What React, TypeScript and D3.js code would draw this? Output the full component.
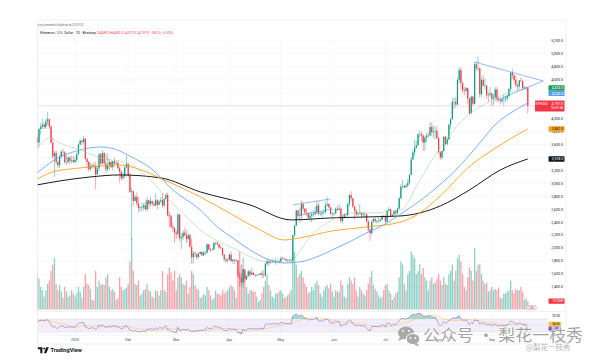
import React, { useEffect, useRef } from "react";
import * as d3 from "d3";

const W = 593;
const H = 360;

// ETH / USD daily, Bitstamp — first candle 2024-12-10
const startDate = Date.UTC(2024, 11, 10);
const firstOpen = 3710;
// Nov 26 – Dec 9 closes, only used to seed the RSI
const warmupCloses = [3330, 3650, 3580, 3590, 3700, 3710, 3640, 3610, 3840, 3790, 4000, 3990, 4010, 3710];

const closesDec = [3630, 3840, 3880, 3910, 3870, 3960, 3990, 3880, 3630, 3420, 3470, 3330, 3280, 3420, 3490, 3480, 3330, 3330, 3400, 3350, 3360, 3330];
const closesJan = [3360, 3450, 3600, 3660, 3640, 3690, 3380, 3330, 3220, 3270, 3280, 3270, 3140, 3230, 3450, 3310, 3470, 3310, 3220, 3280, 3330, 3250, 3340, 3310, 3320, 3230, 3180, 3080, 3110, 3250, 3300];
const closesFeb = [3120, 2870, 2880, 2730, 2790, 2690, 2620, 2630, 2630, 2660, 2600, 2740, 2680, 2730, 2690, 2660, 2740, 2670, 2720, 2740, 2660, 2760, 2820, 2510, 2490, 2330, 2310, 2240];
const closesMar = [2220, 2520, 2150, 2170, 2240, 2200, 2140, 2200, 2020, 1860, 1920, 1910, 1860, 1910, 1940, 1890, 1930, 1930, 2060, 1980, 1970, 1980, 2080, 2080, 2060, 2010, 2000, 1900, 1830, 1810, 1820];
const closesApr = [1900, 1800, 1820, 1810, 1810, 1580, 1550, 1470, 1670, 1520, 1570, 1640, 1590, 1620, 1590, 1580, 1580, 1590, 1610, 1590, 1580, 1760, 1800, 1770, 1780, 1790, 1790, 1800, 1800, 1790];
const closesMay = [1840, 1840, 1830, 1810, 1820, 1810, 1810, 2200, 2350, 2580, 2510, 2500, 2680, 2610, 2550, 2540, 2470, 2500, 2520, 2520, 2550, 2660, 2530, 2530, 2550, 2560, 2660, 2680, 2630, 2530, 2530];
const closesJun = [2540, 2610, 2590, 2610, 2420, 2480, 2520, 2510, 2680, 2820, 2770, 2640, 2580, 2520, 2540, 2550, 2510, 2520, 2520, 2410, 2290, 2230, 2410, 2450, 2420, 2420, 2420, 2440, 2500, 2490];
const closesJul = [2410, 2580, 2600, 2500, 2520, 2570, 2540, 2610, 2770, 2950, 2960, 2940, 2970, 3010, 3130, 3370, 3480, 3550, 3590, 3760, 3760, 3740, 3630, 3710, 3740, 3740, 3870, 3790, 3800, 3810, 3700];
const closesAug = [3480, 3400, 3500, 3720, 3610, 3680, 3910, 3990, 4260, 4260, 4220, 4600, 4750, 4550, 4440, 4430, 4470, 4310, 4080, 4340, 4230, 4840, 4780, 4780, 4380, 4600, 4510, 4510, 4360, 4370, 4390];
const closesSep = [4310, 4330, 4450, 4300, 4290, 4270, 4300, 4310, 4310, 4350, 4460, 4710, 4670, 4600, 4520, 4500, 4590, 4580, 4470, 4480, 4480, 4197];

const highsDec = [3780, 3860, 3930, 4000, 3940, 4000, 4107, 4000, 3900, 3710, 3500, 3510, 3370, 3450, 3520, 3540, 3500, 3440, 3420, 3430, 3430, 3420];
const highsJan = [3410, 3480, 3620, 3680, 3680, 3740, 3700, 3400, 3350, 3320, 3300, 3320, 3330, 3280, 3470, 3470, 3520, 3480, 3450, 3460, 3380, 3360, 3350, 3400, 3350, 3340, 3260, 3200, 3170, 3280, 3430];
const highsFeb = [3320, 3160, 2930, 2880, 2830, 2860, 2800, 2650, 2700, 2700, 2720, 2790, 2750, 2790, 2730, 2720, 2850, 2760, 2750, 2790, 2850, 2780, 2850, 2860, 2560, 2520, 2390, 2330];
const highsMar = [2280, 2550, 2520, 2220, 2280, 2320, 2280, 2240, 2220, 2150, 1950, 1960, 1920, 1940, 1960, 1950, 1960, 1950, 2070, 2070, 2000, 2000, 2090, 2100, 2110, 2070, 2040, 2010, 1910, 1850, 1850];
const highsApr = [1920, 1950, 1830, 1830, 1830, 1810, 1640, 1620, 1690, 1680, 1580, 1660, 1660, 1690, 1640, 1600, 1600, 1600, 1620, 1650, 1660, 1780, 1830, 1810, 1820, 1840, 1820, 1850, 1810, 1830];
const highsMay = [1870, 1870, 1850, 1840, 1830, 1830, 1850, 2210, 2360, 2600, 2590, 2620, 2740, 2720, 2620, 2620, 2550, 2560, 2560, 2580, 2640, 2730, 2700, 2570, 2570, 2590, 2720, 2790, 2700, 2640, 2560];
const highsJun = [2550, 2630, 2660, 2680, 2640, 2520, 2540, 2540, 2700, 2840, 2880, 2780, 2660, 2600, 2560, 2680, 2550, 2560, 2560, 2540, 2440, 2300, 2430, 2470, 2470, 2440, 2470, 2460, 2500, 2520];
const highsJul = [2520, 2590, 2640, 2610, 2520, 2590, 2590, 2630, 2790, 2990, 3060, 2980, 2990, 3070, 3140, 3410, 3520, 3680, 3660, 3770, 3820, 3800, 3760, 3740, 3780, 3790, 3940, 3940, 3900, 3880, 3880];
const highsAug = [3720, 3500, 3510, 3740, 3730, 3720, 3920, 4010, 4320, 4330, 4330, 4640, 4790, 4790, 4570, 4490, 4490, 4480, 4320, 4360, 4350, 4880, 4880, 4956, 4790, 4640, 4670, 4620, 4520, 4420, 4490];
const highsSep = [4400, 4380, 4490, 4490, 4340, 4320, 4330, 4380, 4350, 4370, 4480, 4720, 4770, 4690, 4660, 4530, 4600, 4640, 4600, 4500, 4500, 4490];

const lowsDec = [3510, 3560, 3750, 3840, 3840, 3840, 3900, 3840, 3620, 3380, 3100, 3300, 3230, 3240, 3380, 3420, 3300, 3290, 3310, 3300, 3310, 3320];
const lowsJan = [3300, 3330, 3450, 3590, 3590, 3610, 3370, 3230, 3180, 3190, 3230, 3230, 2910, 3130, 3180, 3260, 3300, 3270, 3150, 3180, 3200, 3240, 3200, 3280, 3290, 3230, 3010, 3050, 3050, 3090, 3240];
const lowsFeb = [3100, 2850, 2120, 2650, 2720, 2650, 2550, 2570, 2560, 2590, 2590, 2560, 2600, 2640, 2650, 2650, 2650, 2600, 2660, 2700, 2620, 2630, 2750, 2490, 2320, 2310, 2250, 2080];
const lowsMar = [2140, 2170, 2100, 1990, 2120, 2180, 2080, 2130, 2010, 1760, 1760, 1860, 1820, 1860, 1910, 1880, 1880, 1890, 1920, 1960, 1940, 1960, 1980, 2040, 2050, 1990, 1990, 1880, 1790, 1770, 1780];
const lowsApr = [1820, 1790, 1760, 1760, 1780, 1540, 1410, 1420, 1390, 1480, 1510, 1550, 1550, 1590, 1580, 1550, 1570, 1580, 1580, 1540, 1540, 1560, 1720, 1730, 1760, 1780, 1770, 1740, 1770, 1760];
const lowsMay = [1780, 1820, 1820, 1800, 1780, 1790, 1770, 1800, 2170, 2340, 2440, 2400, 2430, 2570, 2510, 2500, 2450, 2410, 2400, 2480, 2510, 2530, 2510, 2500, 2480, 2520, 2530, 2640, 2620, 2510, 2480];
const lowsJun = [2500, 2520, 2580, 2590, 2390, 2380, 2470, 2480, 2490, 2640, 2730, 2620, 2440, 2500, 2500, 2530, 2460, 2480, 2480, 2400, 2250, 2110, 2210, 2400, 2390, 2380, 2400, 2410, 2430, 2470];
const lowsJul = [2380, 2400, 2570, 2480, 2480, 2510, 2510, 2520, 2600, 2760, 2910, 2920, 2930, 2940, 2980, 3130, 3350, 3420, 3530, 3580, 3700, 3650, 3500, 3510, 3640, 3700, 3740, 3730, 3700, 3680, 3680];
const lowsAug = [3460, 3360, 3370, 3480, 3590, 3580, 3670, 3840, 3990, 4150, 4170, 4210, 4550, 4450, 4400, 4360, 4410, 4220, 4060, 4080, 4200, 4220, 4740, 4730, 4320, 4340, 4500, 4450, 4310, 4260, 4340];
const lowsSep = [4200, 4210, 4270, 4260, 4260, 4220, 4240, 4200, 4260, 4270, 4330, 4430, 4620, 4560, 4480, 4430, 4450, 4570, 4430, 4470, 4430, 4077];

// volume, thousands of ETH
const volDec = [55, 48, 35, 30, 20, 30, 40, 45, 60, 70, 80, 40, 30, 38, 28, 18, 35, 28, 20, 22, 30, 25];
const volJan = [20, 25, 35, 28, 18, 35, 55, 40, 38, 32, 15, 14, 60, 35, 45, 38, 40, 38, 50, 55, 35, 30, 32, 28, 15, 18, 50, 35, 30, 32, 34];
const volFeb = [40, 75, 110, 60, 40, 38, 45, 22, 25, 30, 32, 40, 30, 28, 20, 18, 30, 28, 22, 30, 60, 30, 28, 55, 65, 58, 45, 60];
const volMar = [30, 50, 55, 50, 40, 38, 45, 25, 35, 60, 55, 38, 32, 30, 18, 20, 25, 22, 35, 30, 22, 15, 18, 30, 24, 25, 22, 30, 25, 28, 30];
const volApr = [35, 38, 35, 30, 18, 55, 90, 70, 80, 55, 35, 25, 30, 30, 28, 28, 20, 12, 15, 25, 35, 45, 55, 38, 30, 20, 18, 25, 25, 28];
const volMay = [30, 25, 18, 20, 22, 25, 30, 85, 90, 70, 50, 55, 60, 50, 40, 35, 25, 28, 35, 30, 40, 45, 38, 25, 20, 30, 35, 38, 33, 40, 28];
const volJun = [20, 30, 28, 28, 45, 38, 20, 18, 40, 50, 45, 40, 50, 30, 20, 35, 30, 25, 22, 30, 40, 50, 60, 38, 32, 28, 22, 18, 20, 30];
const volJul = [38, 40, 30, 25, 15, 20, 25, 28, 50, 75, 70, 40, 30, 55, 60, 90, 85, 80, 55, 60, 70, 55, 65, 50, 45, 30, 45, 50, 40, 42, 48];
const volAug = [55, 45, 38, 50, 40, 38, 55, 60, 70, 45, 60, 80, 85, 75, 55, 35, 30, 50, 65, 60, 45, 95, 60, 70, 70, 55, 45, 40, 42, 28, 30];
const volSep = [35, 30, 32, 30, 34, 18, 18, 25, 25, 28, 30, 45, 30, 25, 32, 30, 30, 35, 28, 15, 18, 13];

const closes = [...closesDec, ...closesJan, ...closesFeb, ...closesMar, ...closesApr, ...closesMay, ...closesJun, ...closesJul, ...closesAug, ...closesSep];
const highs = [...highsDec, ...highsJan, ...highsFeb, ...highsMar, ...highsApr, ...highsMay, ...highsJun, ...highsJul, ...highsAug, ...highsSep];
const lows = [...lowsDec, ...lowsJan, ...lowsFeb, ...lowsMar, ...lowsApr, ...lowsMay, ...lowsJun, ...lowsJul, ...lowsAug, ...lowsSep];
const volumes = [...volDec, ...volJan, ...volFeb, ...volMar, ...volApr, ...volMay, ...volJun, ...volJul, ...volAug, ...volSep];

// moving averages: [bar index, price]
const ma20 = [[0, 3548], [7, 3702], [13, 3625], [25, 3517], [37, 3394], [52, 3316], [66, 3054], [75, 2791], [87, 2483], [95, 2282], [114, 2004], [134, 1788], [147, 1772], [151, 1880], [159, 2174], [172, 2436], [182, 2544], [192, 2544], [212, 2591], [222, 3000], [231, 3394], [250, 4027], [262, 4243], [276, 4413], [286, 4474]];
const ma50 = [[0, 3162], [10, 3363], [23, 3502], [37, 3563], [45, 3532], [56, 3393], [66, 3239], [79, 2899], [95, 2591], [105, 2328], [114, 2158], [124, 1973], [134, 1834], [144, 1772], [153, 1788], [163, 1865], [172, 1973], [182, 2097], [192, 2236], [202, 2359], [212, 2529], [229, 2853], [244, 3208], [256, 3563], [268, 3934], [276, 4088], [286, 4243]];
const ma100 = [[0, 3069], [9, 3177], [25, 3239], [37, 3270], [48, 3285], [57, 3239], [74, 3054], [95, 2791], [114, 2513], [130, 2281], [144, 2127], [153, 2158], [172, 2266], [192, 2328], [212, 2405], [223, 2544], [235, 2807], [251, 3239], [270, 3594], [286, 3841]];
const ma200 = [[0, 2977], [13, 3038], [31, 3100], [48, 3131], [72, 3085], [95, 2869], [124, 2668], [148, 2436], [171, 2467], [194, 2483], [212, 2498], [235, 2652], [252, 2899], [270, 3208], [286, 3378]];

// hand-drawn trend lines: [bar index, price]
const triUpper = [[255, 4876], [295, 4582]];
const triLower = [[268, 4289], [295, 4582]];
const chanUpper = [[149, 2668], [171, 2760]];
const chanLower = [[151, 2498], [172, 2606]];

const priceTicks = [1400, 1600, 1800, 2000, 2200, 2400, 2600, 2800, 3000, 3200, 3400, 3600, 3800, 4000, 4200, 4400, 4600, 4800, 5000, 5200];
const monthTicks: [number, number, string][] = [
  [2025, 0, "2025"], [2025, 1, "Feb"], [2025, 2, "Mar"], [2025, 3, "Apr"], [2025, 4, "May"],
  [2025, 5, "Jun"], [2025, 6, "Jul"], [2025, 7, "Aug"], [2025, 8, "Sep"],
];

const headerLine = "ervinay_ultimate created with TradingView.com, Sep 23, 2025 07:52 UTC";
const symbolLine = "Ethereum / U.S. Dollar · 1D · Bitstamp";

const UP = "#089981";
const DOWN = "#f23645";
const FONT = "Roboto, 'DejaVu Sans', sans-serif";

export default function App() {
  const ref = useRef<SVGSVGElement>(null);

  useEffect(() => {
    if (!ref.current) return;
    const svg = d3.select(ref.current);
    svg.selectAll("*").remove();

    const dayMs = 86400000;
    const dateAt = (i: number) => new Date(startDate + i * dayMs);
    const n = Math.min(closes.length, highs.length, lows.length, volumes.length);
    const bars = d3.range(n).map((i) => {
      const o = i === 0 ? firstOpen : closes[i - 1];
      const c = closes[i];
      return { i, date: dateAt(i), o, c, h: Math.max(highs[i], o, c), l: Math.min(lows[i], o, c), v: volumes[i] };
    });

    const x = d3.scaleUtc().domain([dateAt(0), dateAt(286)]).range([37.3, 527.8]);
    const y = d3.scaleLinear().domain([1400, 5200]).range([287, 41]);
    const yVol = d3.scaleLinear().domain([0, 105]).range([309.5, 242]);
    const yRsi = d3.scaleLinear().domain([30, 70]).range([332, 319]);

    const left = 37.5, right = 548, paneBottom = 311.5, rsiBottom = 335, axisRight = 566;

    svg.append("rect").attr("width", W).attr("height", H).attr("fill", "#fff");

    const defs = svg.append("defs");
    defs.append("clipPath").attr("id", "pane").append("rect")
      .attr("x", left).attr("y", 20).attr("width", right - left).attr("height", paneBottom - 20);
    defs.append("clipPath").attr("id", "rsiPane").append("rect")
      .attr("x", left).attr("y", paneBottom).attr("width", right - left).attr("height", rsiBottom - paneBottom);

    // frame + separators
    svg.append("rect").attr("x", left).attr("y", 20).attr("width", axisRight - left).attr("height", 324)
      .attr("fill", "none").attr("stroke", "#e0e3eb").attr("stroke-width", 0.5);
    [paneBottom, rsiBottom].forEach((yy) =>
      svg.append("line").attr("x1", left).attr("x2", axisRight).attr("y1", yy).attr("y2", yy)
        .attr("stroke", "#e0e3eb").attr("stroke-width", 0.5));

    // grid
    const grid = svg.append("g").attr("stroke", "#eef0f5").attr("stroke-width", 0.5);
    priceTicks.forEach((p) =>
      grid.append("line").attr("x1", left).attr("x2", right).attr("y1", y(p)).attr("y2", y(p)));
    monthTicks.forEach(([yr, m]) => {
      const xx = x(new Date(Date.UTC(yr, m, 1)));
      grid.append("line").attr("x1", xx).attr("x2", xx).attr("y1", 38).attr("y2", rsiBottom);
    });

    const pane = svg.append("g").attr("clip-path", "url(#pane)");

    // volume
    pane.append("g").selectAll("rect").data(bars).enter().append("rect")
      .attr("x", (d) => x(d.date) - 0.65).attr("width", 1.3)
      .attr("y", (d) => yVol(d.v)).attr("height", (d) => yVol(0) - yVol(d.v))
      .attr("fill", (d) => (d.c >= d.o ? UP : DOWN)).attr("opacity", 0.45);

    // candles
    const cg = pane.append("g");
    cg.selectAll("line").data(bars).enter().append("line")
      .attr("x1", (d) => x(d.date)).attr("x2", (d) => x(d.date))
      .attr("y1", (d) => y(d.h)).attr("y2", (d) => y(d.l))
      .attr("stroke", (d) => (d.c >= d.o ? UP : DOWN)).attr("stroke-width", 0.45);
    cg.selectAll("rect").data(bars).enter().append("rect")
      .attr("x", (d) => x(d.date) - 0.6).attr("width", 1.2)
      .attr("y", (d) => y(Math.max(d.o, d.c)))
      .attr("height", (d) => Math.max(0.5, Math.abs(y(d.o) - y(d.c))))
      .attr("fill", (d) => (d.c >= d.o ? UP : DOWN));

    // moving averages
    const maLine = d3.line<number[]>().x((d) => x(dateAt(d[0]))).y((d) => y(d[1])).curve(d3.curveMonotoneX);
    const mas = [
      { data: ma200, color: "#000000", w: 0.9 },
      { data: ma100, color: "#f7a21b", w: 0.9 },
      { data: ma50, color: "#5b9cf6", w: 0.8 },
      { data: ma20, color: "#9ccfa2", w: 0.55 },
    ];
    mas.forEach((m) =>
      pane.append("path").attr("d", maLine(m.data)).attr("fill", "none")
        .attr("stroke", m.color).attr("stroke-width", m.w));

    // trend lines
    const tLine = d3.line<number[]>().x((d) => x(dateAt(d[0]))).y((d) => y(d[1]));
    [triUpper, triLower, chanUpper, chanLower].forEach((t) =>
      pane.append("path").attr("d", tLine(t)).attr("fill", "none")
        .attr("stroke", "#4d8ef0").attr("stroke-width", 0.6));

    // price line
    const last = bars[n - 1];
    pane.append("line").attr("x1", left).attr("x2", right).attr("y1", y(last.c)).attr("y2", y(last.c))
      .attr("stroke", DOWN).attr("stroke-width", 0.4).attr("stroke-dasharray", "1,1").attr("opacity", 0.7);

    // RSI
    const series = [...warmupCloses, ...closes.slice(0, n)];
    const p = 14;
    let ag = 0, al = 0;
    for (let k = 1; k <= p; k++) {
      const dd = series[k] - series[k - 1];
      if (dd > 0) ag += dd; else al -= dd;
    }
    ag /= p; al /= p;
    const rsi: number[] = [100 - 100 / (1 + ag / al)];
    for (let k = p + 1; k < series.length; k++) {
      const dd = series[k] - series[k - 1];
      ag = (ag * (p - 1) + Math.max(dd, 0)) / p;
      al = (al * (p - 1) + Math.max(-dd, 0)) / p;
      rsi.push(al === 0 ? 100 : 100 - 100 / (1 + ag / al));
    }
    const rsiMa = rsi.map((_, i) => d3.mean(rsi.slice(Math.max(0, i - 13), i + 1)) as number);

    const rp = svg.append("g").attr("clip-path", "url(#rsiPane)");
    rp.append("rect").attr("x", left).attr("width", right - left)
      .attr("y", yRsi(70)).attr("height", yRsi(30) - yRsi(70)).attr("fill", "rgba(126,87,194,0.1)");
    [70, 50, 30].forEach((v) =>
      rp.append("line").attr("x1", left).attr("x2", right).attr("y1", yRsi(v)).attr("y2", yRsi(v))
        .attr("stroke", "#9598a1").attr("stroke-width", 0.3)
        .attr("stroke-dasharray", v === 50 ? "0.6,1" : "1,1").attr("opacity", v === 50 ? 0.5 : 0.9));
    const ob = d3.area<number>().x((_, i) => x(dateAt(i))).y0(yRsi(70)).y1((d) => yRsi(Math.max(d, 70)));
    const os = d3.area<number>().x((_, i) => x(dateAt(i))).y0(yRsi(30)).y1((d) => yRsi(Math.min(d, 30)));
    rp.append("path").attr("d", ob(rsi)).attr("fill", "rgba(8,153,129,0.35)");
    rp.append("path").attr("d", os(rsi)).attr("fill", "rgba(242,54,69,0.35)");
    const rl = d3.line<number>().x((_, i) => x(dateAt(i))).y((d) => yRsi(d));
    rp.append("path").attr("d", rl(rsiMa)).attr("fill", "none").attr("stroke", "#f5c542").attr("stroke-width", 0.5);
    rp.append("path").attr("d", rl(rsi)).attr("fill", "none").attr("stroke", "#7e57c2").attr("stroke-width", 0.5);

    // price axis labels
    const ax = svg.append("g").attr("font-family", FONT).attr("font-size", 3.6).attr("fill", "#131722");
    priceTicks.forEach((t) =>
      ax.append("text").attr("x", 563).attr("y", y(t)).attr("dy", "0.35em").attr("text-anchor", "end")
        .text(d3.format(",.1f")(t)));

    // time axis labels
    monthTicks.forEach(([yr, m, label]) =>
      svg.append("text").attr("x", x(new Date(Date.UTC(yr, m, 1)))).attr("y", 339.5).attr("dy", "0.35em")
        .attr("text-anchor", "middle").attr("font-family", FONT).attr("font-size", 3.6).attr("fill", "#4a4e59")
        .text(label));

    // colored value labels on the scale
    const fmt = d3.format(",.1f");
    const tag = (yc: number, fill: string, text: string, color: string, x0 = 548.5, w = 16, h = 5.4) => {
      svg.append("rect").attr("x", x0).attr("y", yc - h / 2).attr("width", w).attr("height", h)
        .attr("rx", 0.6).attr("fill", fill);
      svg.append("text").attr("x", x0 + w - 1.3).attr("y", yc).attr("dy", "0.35em").attr("text-anchor", "end")
        .attr("font-family", FONT).attr("font-size", Math.min(3.5, h - 1.4)).attr("fill", color).text(text);
    };

    const tagH = 5.4;
    const priceY = y(last.c);
    const pTop = priceY - 5.5, pBot = priceY + 5.5;
    const maTags = [
      { v: ma20[ma20.length - 1][1], fill: "#1e9e53", color: "#fff" },
      { v: ma50[ma50.length - 1][1], fill: "#5b9cf6", color: "#fff" },
      { v: ma100[ma100.length - 1][1], fill: "#f7a21b", color: "#131722" },
      { v: ma200[ma200.length - 1][1], fill: "#131722", color: "#fff" },
    ].sort((a, b) => b.v - a.v);
    let prevBottom = -Infinity;
    maTags.forEach((t) => {
      let yc = Math.max(y(t.v), prevBottom + tagH / 2);
      if (yc + tagH / 2 > pTop && yc - tagH / 2 < pBot) {
        yc = prevBottom + tagH / 2;
        if (yc + tagH / 2 > pTop) yc = pTop - tagH / 2;
      }
      tag(yc, t.fill, fmt(t.v), t.color);
      prevBottom = yc + tagH / 2;
    });

    // last price label (symbol + price + countdown)
    svg.append("rect").attr("x", 535).attr("y", pTop).attr("width", 29.5).attr("height", pBot - pTop)
      .attr("rx", 0.6).attr("fill", DOWN);
    svg.append("text").attr("x", 541.5).attr("y", priceY - 1.6).attr("dy", "0.35em").attr("text-anchor", "middle")
      .attr("font-family", FONT).attr("font-size", 3.2).attr("fill", "#fff").text("ETHUSD");
    svg.append("text").attr("x", 563).attr("y", priceY - 2).attr("dy", "0.35em").attr("text-anchor", "end")
      .attr("font-family", FONT).attr("font-size", 3.5).attr("fill", "#fff").text(fmt(last.c));
    svg.append("text").attr("x", 563).attr("y", priceY + 2.3).attr("dy", "0.35em").attr("text-anchor", "end")
      .attr("font-family", FONT).attr("font-size", 3.2).attr("fill", "#fff").text("16:07:48");

    // volume label + last bar pill
    tag(Math.min(301.5, yVol(last.v)), DOWN, `${last.v.toFixed(2)}K`, "#fff");
    svg.append("rect").attr("x", 526).attr("y", 305.5).attr("width", 10.5).attr("height", 4.2).attr("rx", 2)
      .attr("fill", "#fde2e4").attr("stroke", "#e57373").attr("stroke-width", 0.3);
    svg.append("text").attr("x", 531.2).attr("y", 307.6).attr("dy", "0.35em").attr("text-anchor", "middle")
      .attr("font-family", FONT).attr("font-size", 2.6).attr("fill", "#5b6bd6").text(`${last.v}K`);

    // RSI labels
    svg.append("text").attr("x", 560).attr("y", 315.5).attr("dy", "0.35em").attr("text-anchor", "end")
      .attr("font-family", FONT).attr("font-size", 3.2).attr("fill", "#131722").text("70.00");
    const rLast = rsi[n - 1], mLast = rsiMa[n - 1];
    const rTagH = 4.4;
    const mYc = Math.max(320.5, Math.min(yRsi(mLast), yRsi(rLast) - rTagH));
    tag(mYc, "#f5c542", mLast.toFixed(2), "#131722", 548.5, 12.5, rTagH);
    tag(Math.max(yRsi(rLast), mYc + rTagH), "#7e57c2", rLast.toFixed(2), "#fff", 548.5, 12.5, rTagH);

    // header
    svg.append("text").attr("x", 38).attr("y", 25).attr("dy", "0.35em").attr("font-family", FONT)
      .attr("font-size", 2.6).attr("fill", "#50535e").attr("textLength", 46).attr("lengthAdjust", "spacingAndGlyphs")
      .text(headerLine);
    svg.append("rect").attr("x", 37.5).attr("y", 29).attr("width", 138.5).attr("height", 7)
      .attr("fill", "#fff").attr("stroke", "#e0e3eb").attr("stroke-width", 0.4).attr("rx", 0.8);
    svg.append("text").attr("x", 40).attr("y", 32.6).attr("dy", "0.35em").attr("font-family", FONT)
      .attr("font-size", 3).attr("fill", "#131722").attr("textLength", 56).attr("lengthAdjust", "spacingAndGlyphs")
      .text(symbolLine);
    const chg = last.c - last.o;
    const ohlc = `O${fmt(last.o)} H${fmt(last.h)} L${fmt(last.l)} C${fmt(last.c)} ${chg < 0 ? "−" : "+"}${fmt(Math.abs(chg))} (${chg < 0 ? "−" : "+"}${Math.abs((chg / last.o) * 100).toFixed(2)}%)`;
    svg.append("text").attr("x", 97).attr("y", 32.6).attr("dy", "0.35em").attr("font-family", FONT)
      .attr("font-size", 3).attr("fill", DOWN).attr("textLength", 76).attr("lengthAdjust", "spacingAndGlyphs")
      .text(ohlc);

    // TradingView logo
    const logo = svg.append("g").attr("fill", "#131722");
    logo.append("path").attr("d", "M37.8,347.3h4.6v5.9h-2.1v-3.9h-2.5z");
    logo.append("circle").attr("cx", 44.2).attr("cy", 348.4).attr("r", 1);
    logo.append("path").attr("d", "M46.2,347.3h2.6l-2.5,5.9h-2.4z");
    logo.append("text").attr("x", 50.5).attr("y", 350.3).attr("dy", "0.35em").attr("font-family", FONT)
      .attr("font-weight", 700).attr("font-size", 5.6).text("TradingView");

    // watermark
    const wm = svg.append("g");
    wm.append("ellipse").attr("cx", 406).attr("cy", 333).attr("rx", 8).attr("ry", 6.5).attr("fill", "#a9a9a9");
    wm.append("path").attr("d", "M400,337 l-2,4 l5,-2 z").attr("fill", "#a9a9a9");
    wm.append("ellipse").attr("cx", 413).attr("cy", 339).attr("rx", 6.8).attr("ry", 5.6)
      .attr("fill", "#a9a9a9").attr("stroke", "#fff").attr("stroke-width", 1);
    wm.append("path").attr("d", "M417,343 l2,3.5 l-5,-2 z").attr("fill", "#a9a9a9");
    [[403, 331], [409, 331], [410.5, 338], [415.5, 338]].forEach(([cx, cy]) =>
      wm.append("circle").attr("cx", cx).attr("cy", cy).attr("r", 0.9).attr("fill", "#fff"));
    wm.append("text").attr("x", 423).attr("y", 341).attr("font-family", "'Noto Sans CJK SC', sans-serif")
      .attr("font-size", 16).attr("fill", "#a3a3a3").attr("stroke", "#fff").attr("stroke-width", 1)
      .attr("paint-order", "stroke").attr("textLength", 160).attr("lengthAdjust", "spacingAndGlyphs")
      .text("公众号 · 梨花一枝秀");
    wm.append("text").attr("x", 526).attr("y", 349.5).attr("font-family", "'Noto Sans CJK SC', sans-serif")
      .attr("font-size", 7.5).attr("fill", "#b4b4b4").attr("stroke", "#fff").attr("stroke-width", 0.6)
      .attr("paint-order", "stroke").text("@梨花一枝秀");
  }, []);

  return (
    <div style={{ position: "absolute", left: 0, top: 0, width: W, height: H }}>
      <svg ref={ref} width={W} height={H} style={{ display: "block" }} />
    </div>
  );
}
